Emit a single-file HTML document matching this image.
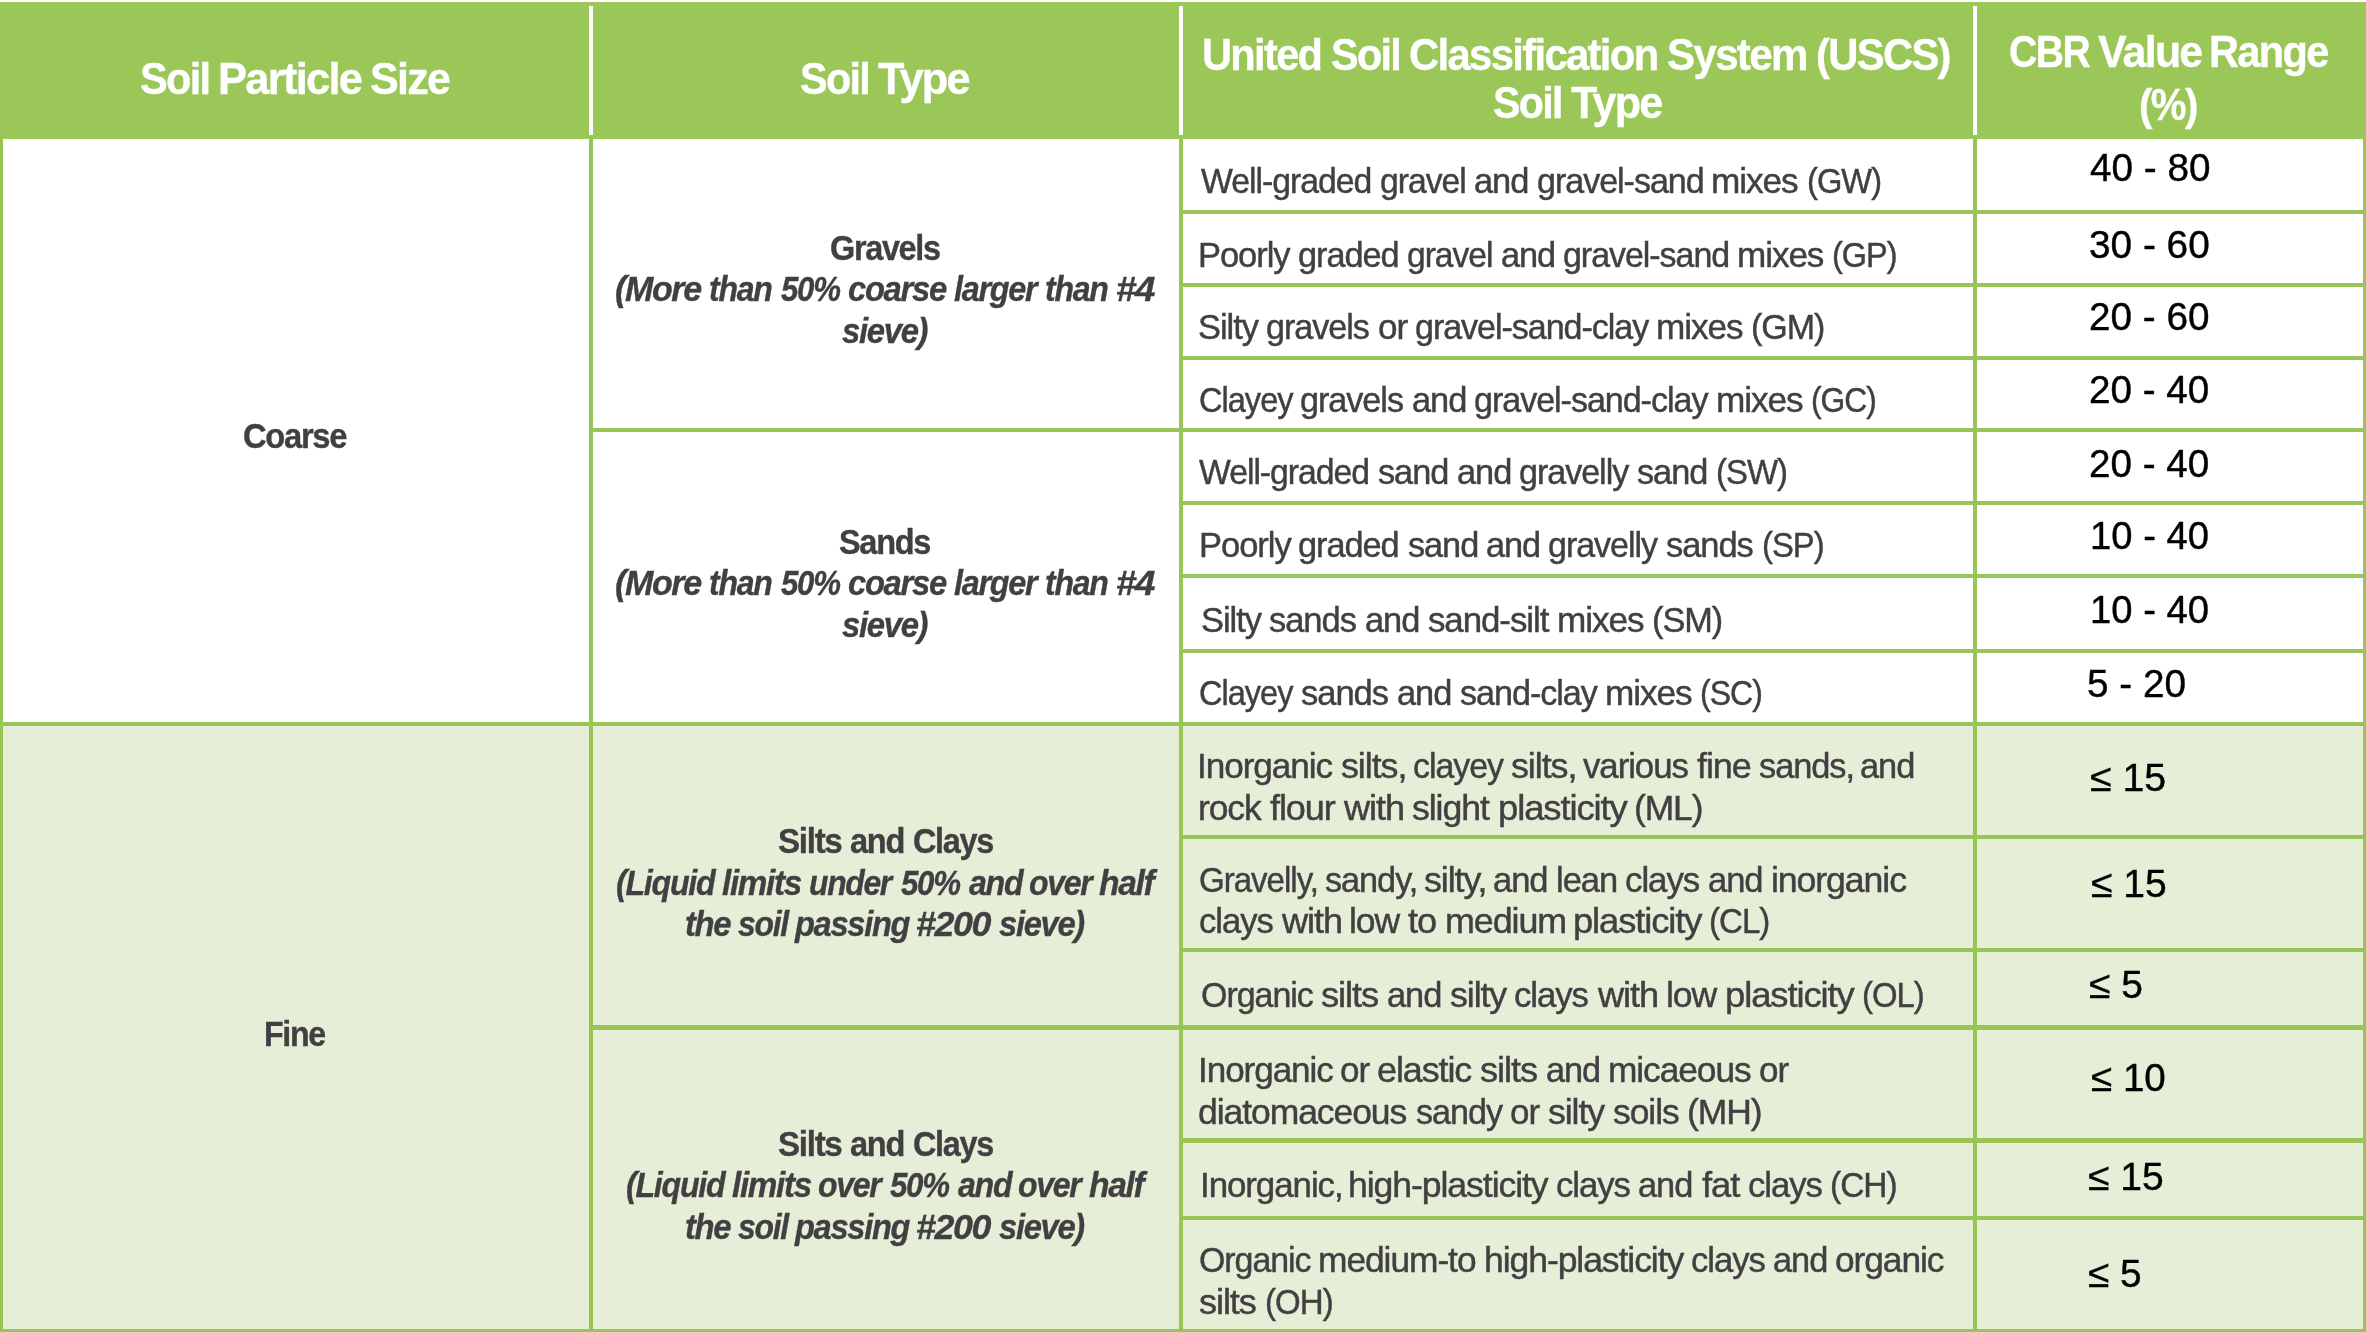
<!DOCTYPE html><html lang="en"><head><meta charset="utf-8"><title>Soil CBR table</title><style>
html,body{margin:0;padding:0;background:#fff;}
#p{position:relative;width:2366px;height:1332px;overflow:hidden;background:#fff;font-family:"Liberation Sans",sans-serif;}
#p div{position:absolute;}
#t span{position:absolute;white-space:nowrap;transform-origin:0 0;line-height:1;display:block;}
</style></head><body><div id="p">
<div style="left:0px;top:2px;width:2366px;height:137px;background:#9bc759"></div>
<div style="left:0px;top:726px;width:2366px;height:606px;background:#e6eed7"></div>
<div style="left:0px;top:139px;width:3px;height:1193px;background:#98c555"></div>
<div style="left:2362.5px;top:139px;width:3.5px;height:1193px;background:#98c555"></div>
<div style="left:0px;top:1329px;width:2366px;height:3px;background:#98c555"></div>
<div style="left:589px;top:139px;width:4px;height:1193px;background:#98c555"></div>
<div style="left:589px;top:6px;width:4px;height:128.7px;background:#fff"></div>
<div style="left:1179px;top:139px;width:4px;height:1193px;background:#98c555"></div>
<div style="left:1179px;top:6px;width:4px;height:128.7px;background:#fff"></div>
<div style="left:1973px;top:139px;width:4px;height:1193px;background:#98c555"></div>
<div style="left:1973px;top:6px;width:4px;height:128.7px;background:#fff"></div>
<div style="left:1179px;top:210px;width:1187px;height:4px;background:#98c555"></div>
<div style="left:1179px;top:283px;width:1187px;height:4px;background:#98c555"></div>
<div style="left:1179px;top:356px;width:1187px;height:4px;background:#98c555"></div>
<div style="left:589px;top:428px;width:1777px;height:4px;background:#98c555"></div>
<div style="left:1179px;top:501px;width:1187px;height:4px;background:#98c555"></div>
<div style="left:1179px;top:574px;width:1187px;height:4px;background:#98c555"></div>
<div style="left:1179px;top:649px;width:1187px;height:4px;background:#98c555"></div>
<div style="left:0px;top:722px;width:2366px;height:4px;background:#98c555"></div>
<div style="left:1179px;top:835px;width:1187px;height:4px;background:#98c555"></div>
<div style="left:1179px;top:948px;width:1187px;height:4px;background:#98c555"></div>
<div style="left:589px;top:1025px;width:1777px;height:4.5px;background:#98c555"></div>
<div style="left:1179px;top:1138px;width:1187px;height:4.5px;background:#98c555"></div>
<div style="left:1179px;top:1215.5px;width:1187px;height:4.5px;background:#98c555"></div>
<div id="t" style="left:0;top:0;width:2366px;height:1332px;will-change:transform">
<span style="left:140.24px;top:56.00px;font:bold 45px/1 'Liberation Sans',sans-serif;color:#fff;letter-spacing:-1.80px;-webkit-text-stroke:0.35px #fff;transform:scaleX(0.9229)">Soil</span>
<span style="left:217.77px;top:56.00px;font:bold 45px/1 'Liberation Sans',sans-serif;color:#fff;letter-spacing:-1.80px;-webkit-text-stroke:0.35px #fff;transform:scaleX(0.9668)">Particle</span>
<span style="left:369.82px;top:56.00px;font:bold 45px/1 'Liberation Sans',sans-serif;color:#fff;letter-spacing:-1.80px;-webkit-text-stroke:0.35px #fff;transform:scaleX(0.9570)">Size</span>
<span style="left:800.24px;top:56.00px;font:bold 45px/1 'Liberation Sans',sans-serif;color:#fff;letter-spacing:-1.80px;-webkit-text-stroke:0.35px #fff;transform:scaleX(0.9185)">Soil</span>
<span style="left:878.14px;top:56.00px;font:bold 45px/1 'Liberation Sans',sans-serif;color:#fff;letter-spacing:-1.80px;-webkit-text-stroke:0.35px #fff;transform:scaleX(0.9626)">Type</span>
<span style="left:1202.31px;top:32.20px;font:bold 45px/1 'Liberation Sans',sans-serif;color:#fff;letter-spacing:-1.80px;-webkit-text-stroke:0.35px #fff;transform:scaleX(0.9239)">United</span>
<span style="left:1330.90px;top:32.20px;font:bold 45px/1 'Liberation Sans',sans-serif;color:#fff;letter-spacing:-1.80px;-webkit-text-stroke:0.35px #fff;transform:scaleX(0.9186)">Soil</span>
<span style="left:1408.87px;top:32.20px;font:bold 45px/1 'Liberation Sans',sans-serif;color:#fff;letter-spacing:-1.80px;-webkit-text-stroke:0.35px #fff;transform:scaleX(0.9296)">Classification</span>
<span style="left:1666.53px;top:32.20px;font:bold 45px/1 'Liberation Sans',sans-serif;color:#fff;letter-spacing:-1.80px;-webkit-text-stroke:0.35px #fff;transform:scaleX(0.9356)">System</span>
<span style="left:1815.60px;top:32.20px;font:bold 45px/1 'Liberation Sans',sans-serif;color:#fff;letter-spacing:-1.80px;-webkit-text-stroke:0.35px #fff;transform:scaleX(0.9281)">(USCS)</span>
<span style="left:1493.25px;top:80.10px;font:bold 45px/1 'Liberation Sans',sans-serif;color:#fff;letter-spacing:-1.80px;-webkit-text-stroke:0.35px #fff;transform:scaleX(0.9135)">Soil</span>
<span style="left:1570.51px;top:80.10px;font:bold 45px/1 'Liberation Sans',sans-serif;color:#fff;letter-spacing:-1.80px;-webkit-text-stroke:0.35px #fff;transform:scaleX(0.9586)">Type</span>
<span style="left:2009.28px;top:28.90px;font:bold 45px/1 'Liberation Sans',sans-serif;color:#fff;letter-spacing:-1.80px;-webkit-text-stroke:0.35px #fff;transform:scaleX(0.8697)">CBR</span>
<span style="left:2098.35px;top:28.90px;font:bold 45px/1 'Liberation Sans',sans-serif;color:#fff;letter-spacing:-1.80px;-webkit-text-stroke:0.35px #fff;transform:scaleX(0.9534)">Value</span>
<span style="left:2209.15px;top:28.90px;font:bold 45px/1 'Liberation Sans',sans-serif;color:#fff;letter-spacing:-1.80px;-webkit-text-stroke:0.35px #fff;transform:scaleX(0.9226)">Range</span>
<span style="left:2139.37px;top:82.10px;font:bold 45px/1 'Liberation Sans',sans-serif;color:#fff;letter-spacing:-1.80px;-webkit-text-stroke:0.35px #fff;transform:scaleX(0.8957)">(%)</span>
<span style="left:243.23px;top:418.40px;font:bold 35.2px/1 'Liberation Sans',sans-serif;color:#404042;letter-spacing:-1.41px;-webkit-text-stroke:0.35px #404042;transform:scaleX(0.9302)">Coarse</span>
<span style="left:264.33px;top:1015.70px;font:bold 35.2px/1 'Liberation Sans',sans-serif;color:#404042;letter-spacing:-1.41px;-webkit-text-stroke:0.35px #404042;transform:scaleX(0.9136)">Fine</span>
<span style="left:829.64px;top:230.30px;font:bold 35.2px/1 'Liberation Sans',sans-serif;color:#404042;letter-spacing:-1.41px;-webkit-text-stroke:0.35px #404042;transform:scaleX(0.9200)">Gravels</span>
<span style="left:615.10px;top:271.30px;font:italic bold 35.2px/1 'Liberation Sans',sans-serif;color:#404042;letter-spacing:-1.41px;-webkit-text-stroke:0.35px #404042;transform:scaleX(0.9665)">(More</span>
<span style="left:709.06px;top:271.30px;font:italic bold 35.2px/1 'Liberation Sans',sans-serif;color:#404042;letter-spacing:-1.41px;-webkit-text-stroke:0.35px #404042;transform:scaleX(0.9101)">than</span>
<span style="left:781.33px;top:271.30px;font:italic bold 35.2px/1 'Liberation Sans',sans-serif;color:#404042;letter-spacing:-1.41px;-webkit-text-stroke:0.35px #404042;transform:scaleX(0.8872)">50%</span>
<span style="left:848.20px;top:271.30px;font:italic bold 35.2px/1 'Liberation Sans',sans-serif;color:#404042;letter-spacing:-1.41px;-webkit-text-stroke:0.35px #404042;transform:scaleX(0.9315)">coarse</span>
<span style="left:954.09px;top:271.30px;font:italic bold 35.2px/1 'Liberation Sans',sans-serif;color:#404042;letter-spacing:-1.41px;-webkit-text-stroke:0.35px #404042;transform:scaleX(0.9213)">larger</span>
<span style="left:1045.25px;top:271.30px;font:italic bold 35.2px/1 'Liberation Sans',sans-serif;color:#404042;letter-spacing:-1.41px;-webkit-text-stroke:0.35px #404042;transform:scaleX(0.9101)">than</span>
<span style="left:1115.50px;top:271.30px;font:italic bold 35.2px/1 'Liberation Sans',sans-serif;color:#404042;letter-spacing:-1.41px;-webkit-text-stroke:0.35px #404042;transform:scaleX(1.0445)">#4</span>
<span style="left:841.66px;top:312.50px;font:italic bold 35.2px/1 'Liberation Sans',sans-serif;color:#404042;letter-spacing:-1.41px;-webkit-text-stroke:0.35px #404042;transform:scaleX(0.9333)">sieve)</span>
<span style="left:838.94px;top:524.00px;font:bold 35.2px/1 'Liberation Sans',sans-serif;color:#404042;letter-spacing:-1.41px;-webkit-text-stroke:0.35px #404042;transform:scaleX(0.9236)">Sands</span>
<span style="left:615.10px;top:565.20px;font:italic bold 35.2px/1 'Liberation Sans',sans-serif;color:#404042;letter-spacing:-1.41px;-webkit-text-stroke:0.35px #404042;transform:scaleX(0.9665)">(More</span>
<span style="left:709.06px;top:565.20px;font:italic bold 35.2px/1 'Liberation Sans',sans-serif;color:#404042;letter-spacing:-1.41px;-webkit-text-stroke:0.35px #404042;transform:scaleX(0.9101)">than</span>
<span style="left:781.33px;top:565.20px;font:italic bold 35.2px/1 'Liberation Sans',sans-serif;color:#404042;letter-spacing:-1.41px;-webkit-text-stroke:0.35px #404042;transform:scaleX(0.8872)">50%</span>
<span style="left:848.20px;top:565.20px;font:italic bold 35.2px/1 'Liberation Sans',sans-serif;color:#404042;letter-spacing:-1.41px;-webkit-text-stroke:0.35px #404042;transform:scaleX(0.9315)">coarse</span>
<span style="left:954.09px;top:565.20px;font:italic bold 35.2px/1 'Liberation Sans',sans-serif;color:#404042;letter-spacing:-1.41px;-webkit-text-stroke:0.35px #404042;transform:scaleX(0.9213)">larger</span>
<span style="left:1045.25px;top:565.20px;font:italic bold 35.2px/1 'Liberation Sans',sans-serif;color:#404042;letter-spacing:-1.41px;-webkit-text-stroke:0.35px #404042;transform:scaleX(0.9101)">than</span>
<span style="left:1115.50px;top:565.20px;font:italic bold 35.2px/1 'Liberation Sans',sans-serif;color:#404042;letter-spacing:-1.41px;-webkit-text-stroke:0.35px #404042;transform:scaleX(1.0445)">#4</span>
<span style="left:841.66px;top:606.60px;font:italic bold 35.2px/1 'Liberation Sans',sans-serif;color:#404042;letter-spacing:-1.41px;-webkit-text-stroke:0.35px #404042;transform:scaleX(0.9333)">sieve)</span>
<span style="left:777.62px;top:822.80px;font:bold 35.2px/1 'Liberation Sans',sans-serif;color:#404042;letter-spacing:-1.41px;-webkit-text-stroke:0.35px #404042;transform:scaleX(0.9442)">Silts</span>
<span style="left:849.90px;top:822.80px;font:bold 35.2px/1 'Liberation Sans',sans-serif;color:#404042;letter-spacing:-1.41px;-webkit-text-stroke:0.35px #404042;transform:scaleX(0.9255)">and</span>
<span style="left:912.52px;top:822.80px;font:bold 35.2px/1 'Liberation Sans',sans-serif;color:#404042;letter-spacing:-1.41px;-webkit-text-stroke:0.35px #404042;transform:scaleX(0.9205)">Clays</span>
<span style="left:615.94px;top:864.50px;font:italic bold 35.2px/1 'Liberation Sans',sans-serif;color:#404042;letter-spacing:-1.41px;-webkit-text-stroke:0.35px #404042;transform:scaleX(0.9167)">(Liquid</span>
<span style="left:722.15px;top:864.50px;font:italic bold 35.2px/1 'Liberation Sans',sans-serif;color:#404042;letter-spacing:-1.41px;-webkit-text-stroke:0.35px #404042;transform:scaleX(0.9447)">limits</span>
<span style="left:809.30px;top:864.50px;font:italic bold 35.2px/1 'Liberation Sans',sans-serif;color:#404042;letter-spacing:-1.41px;-webkit-text-stroke:0.35px #404042;transform:scaleX(0.9031)">under</span>
<span style="left:900.93px;top:864.50px;font:italic bold 35.2px/1 'Liberation Sans',sans-serif;color:#404042;letter-spacing:-1.41px;-webkit-text-stroke:0.35px #404042;transform:scaleX(0.8876)">50%</span>
<span style="left:968.79px;top:864.50px;font:italic bold 35.2px/1 'Liberation Sans',sans-serif;color:#404042;letter-spacing:-1.41px;-webkit-text-stroke:0.35px #404042;transform:scaleX(0.9137)">and</span>
<span style="left:1028.93px;top:864.50px;font:italic bold 35.2px/1 'Liberation Sans',sans-serif;color:#404042;letter-spacing:-1.41px;-webkit-text-stroke:0.35px #404042;transform:scaleX(0.9103)">over</span>
<span style="left:1099.22px;top:864.50px;font:italic bold 35.2px/1 'Liberation Sans',sans-serif;color:#404042;letter-spacing:-1.41px;-webkit-text-stroke:0.35px #404042;transform:scaleX(0.9562)">half</span>
<span style="left:685.03px;top:905.60px;font:italic bold 35.2px/1 'Liberation Sans',sans-serif;color:#404042;letter-spacing:-1.41px;-webkit-text-stroke:0.35px #404042;transform:scaleX(0.9334)">the</span>
<span style="left:738.40px;top:905.60px;font:italic bold 35.2px/1 'Liberation Sans',sans-serif;color:#404042;letter-spacing:-1.41px;-webkit-text-stroke:0.35px #404042;transform:scaleX(0.9077)">soil</span>
<span style="left:795.49px;top:905.60px;font:italic bold 35.2px/1 'Liberation Sans',sans-serif;color:#404042;letter-spacing:-1.41px;-webkit-text-stroke:0.35px #404042;transform:scaleX(0.9272)">passing</span>
<span style="left:915.82px;top:905.60px;font:italic bold 35.2px/1 'Liberation Sans',sans-serif;color:#404042;letter-spacing:-1.41px;-webkit-text-stroke:0.35px #404042;transform:scaleX(1.0178)">#200</span>
<span style="left:999.07px;top:905.60px;font:italic bold 35.2px/1 'Liberation Sans',sans-serif;color:#404042;letter-spacing:-1.41px;-webkit-text-stroke:0.35px #404042;transform:scaleX(0.9299)">sieve)</span>
<span style="left:777.62px;top:1125.70px;font:bold 35.2px/1 'Liberation Sans',sans-serif;color:#404042;letter-spacing:-1.41px;-webkit-text-stroke:0.35px #404042;transform:scaleX(0.9442)">Silts</span>
<span style="left:849.90px;top:1125.70px;font:bold 35.2px/1 'Liberation Sans',sans-serif;color:#404042;letter-spacing:-1.41px;-webkit-text-stroke:0.35px #404042;transform:scaleX(0.9255)">and</span>
<span style="left:912.52px;top:1125.70px;font:bold 35.2px/1 'Liberation Sans',sans-serif;color:#404042;letter-spacing:-1.41px;-webkit-text-stroke:0.35px #404042;transform:scaleX(0.9205)">Clays</span>
<span style="left:625.74px;top:1167.40px;font:italic bold 35.2px/1 'Liberation Sans',sans-serif;color:#404042;letter-spacing:-1.41px;-webkit-text-stroke:0.35px #404042;transform:scaleX(0.9168)">(Liquid</span>
<span style="left:731.96px;top:1167.40px;font:italic bold 35.2px/1 'Liberation Sans',sans-serif;color:#404042;letter-spacing:-1.41px;-webkit-text-stroke:0.35px #404042;transform:scaleX(0.9448)">limits</span>
<span style="left:818.12px;top:1167.40px;font:italic bold 35.2px/1 'Liberation Sans',sans-serif;color:#404042;letter-spacing:-1.41px;-webkit-text-stroke:0.35px #404042;transform:scaleX(0.9104)">over</span>
<span style="left:890.40px;top:1167.40px;font:italic bold 35.2px/1 'Liberation Sans',sans-serif;color:#404042;letter-spacing:-1.41px;-webkit-text-stroke:0.35px #404042;transform:scaleX(0.8877)">50%</span>
<span style="left:958.28px;top:1167.40px;font:italic bold 35.2px/1 'Liberation Sans',sans-serif;color:#404042;letter-spacing:-1.41px;-webkit-text-stroke:0.35px #404042;transform:scaleX(0.9138)">and</span>
<span style="left:1018.42px;top:1167.40px;font:italic bold 35.2px/1 'Liberation Sans',sans-serif;color:#404042;letter-spacing:-1.41px;-webkit-text-stroke:0.35px #404042;transform:scaleX(0.9104)">over</span>
<span style="left:1088.71px;top:1167.40px;font:italic bold 35.2px/1 'Liberation Sans',sans-serif;color:#404042;letter-spacing:-1.41px;-webkit-text-stroke:0.35px #404042;transform:scaleX(0.9562)">half</span>
<span style="left:685.03px;top:1209.10px;font:italic bold 35.2px/1 'Liberation Sans',sans-serif;color:#404042;letter-spacing:-1.41px;-webkit-text-stroke:0.35px #404042;transform:scaleX(0.9334)">the</span>
<span style="left:738.40px;top:1209.10px;font:italic bold 35.2px/1 'Liberation Sans',sans-serif;color:#404042;letter-spacing:-1.41px;-webkit-text-stroke:0.35px #404042;transform:scaleX(0.9077)">soil</span>
<span style="left:795.49px;top:1209.10px;font:italic bold 35.2px/1 'Liberation Sans',sans-serif;color:#404042;letter-spacing:-1.41px;-webkit-text-stroke:0.35px #404042;transform:scaleX(0.9272)">passing</span>
<span style="left:915.82px;top:1209.10px;font:italic bold 35.2px/1 'Liberation Sans',sans-serif;color:#404042;letter-spacing:-1.41px;-webkit-text-stroke:0.35px #404042;transform:scaleX(1.0178)">#200</span>
<span style="left:999.07px;top:1209.10px;font:italic bold 35.2px/1 'Liberation Sans',sans-serif;color:#404042;letter-spacing:-1.41px;-webkit-text-stroke:0.35px #404042;transform:scaleX(0.9299)">sieve)</span>
<span style="left:1201.22px;top:162.70px;font:normal 35.2px/1 'Liberation Sans',sans-serif;color:#404042;letter-spacing:-1.06px;-webkit-text-stroke:0.45px #404042;transform:scaleX(0.9590)">Well-graded</span>
<span style="left:1379.61px;top:162.70px;font:normal 35.2px/1 'Liberation Sans',sans-serif;color:#404042;letter-spacing:-1.06px;-webkit-text-stroke:0.45px #404042;transform:scaleX(0.9582)">gravel</span>
<span style="left:1474.04px;top:162.70px;font:normal 35.2px/1 'Liberation Sans',sans-serif;color:#404042;letter-spacing:-1.06px;-webkit-text-stroke:0.45px #404042;transform:scaleX(0.9771)">and</span>
<span style="left:1536.52px;top:162.70px;font:normal 35.2px/1 'Liberation Sans',sans-serif;color:#404042;letter-spacing:-1.06px;-webkit-text-stroke:0.45px #404042;transform:scaleX(0.9678)">gravel-sand</span>
<span style="left:1711.39px;top:162.70px;font:normal 35.2px/1 'Liberation Sans',sans-serif;color:#404042;letter-spacing:-1.06px;-webkit-text-stroke:0.45px #404042;transform:scaleX(0.9998)">mixes</span>
<span style="left:1806.58px;top:162.70px;font:normal 35.2px/1 'Liberation Sans',sans-serif;color:#404042;letter-spacing:-1.06px;-webkit-text-stroke:0.45px #404042;transform:scaleX(0.9278)">(GW)</span>
<span style="left:1198.46px;top:236.60px;font:normal 35.2px/1 'Liberation Sans',sans-serif;color:#404042;letter-spacing:-1.06px;-webkit-text-stroke:0.45px #404042;transform:scaleX(0.9804)">Poorly</span>
<span style="left:1297.86px;top:236.60px;font:normal 35.2px/1 'Liberation Sans',sans-serif;color:#404042;letter-spacing:-1.06px;-webkit-text-stroke:0.45px #404042;transform:scaleX(0.9742)">graded</span>
<span style="left:1406.54px;top:236.60px;font:normal 35.2px/1 'Liberation Sans',sans-serif;color:#404042;letter-spacing:-1.06px;-webkit-text-stroke:0.45px #404042;transform:scaleX(0.9553)">gravel</span>
<span style="left:1500.61px;top:236.60px;font:normal 35.2px/1 'Liberation Sans',sans-serif;color:#404042;letter-spacing:-1.06px;-webkit-text-stroke:0.45px #404042;transform:scaleX(0.9753)">and</span>
<span style="left:1562.88px;top:236.60px;font:normal 35.2px/1 'Liberation Sans',sans-serif;color:#404042;letter-spacing:-1.06px;-webkit-text-stroke:0.45px #404042;transform:scaleX(0.9648)">gravel-sand</span>
<span style="left:1737.14px;top:236.60px;font:normal 35.2px/1 'Liberation Sans',sans-serif;color:#404042;letter-spacing:-1.06px;-webkit-text-stroke:0.45px #404042;transform:scaleX(0.9974)">mixes</span>
<span style="left:1832.02px;top:236.60px;font:normal 35.2px/1 'Liberation Sans',sans-serif;color:#404042;letter-spacing:-1.06px;-webkit-text-stroke:0.45px #404042;transform:scaleX(0.9220)">(GP)</span>
<span style="left:1198.44px;top:308.60px;font:normal 35.2px/1 'Liberation Sans',sans-serif;color:#404042;letter-spacing:-1.06px;-webkit-text-stroke:0.45px #404042;transform:scaleX(0.9787)">Silty</span>
<span style="left:1266.24px;top:308.60px;font:normal 35.2px/1 'Liberation Sans',sans-serif;color:#404042;letter-spacing:-1.06px;-webkit-text-stroke:0.45px #404042;transform:scaleX(0.9704)">gravels</span>
<span style="left:1377.55px;top:308.60px;font:normal 35.2px/1 'Liberation Sans',sans-serif;color:#404042;letter-spacing:-1.06px;-webkit-text-stroke:0.45px #404042;transform:scaleX(0.9974)">or</span>
<span style="left:1414.74px;top:308.60px;font:normal 35.2px/1 'Liberation Sans',sans-serif;color:#404042;letter-spacing:-1.06px;-webkit-text-stroke:0.45px #404042;transform:scaleX(0.9665)">gravel-sand-clay</span>
<span style="left:1655.77px;top:308.60px;font:normal 35.2px/1 'Liberation Sans',sans-serif;color:#404042;letter-spacing:-1.06px;-webkit-text-stroke:0.45px #404042;transform:scaleX(0.9992)">mixes</span>
<span style="left:1750.80px;top:308.60px;font:normal 35.2px/1 'Liberation Sans',sans-serif;color:#404042;letter-spacing:-1.06px;-webkit-text-stroke:0.45px #404042;transform:scaleX(0.9661)">(GM)</span>
<span style="left:1198.98px;top:381.50px;font:normal 35.2px/1 'Liberation Sans',sans-serif;color:#404042;letter-spacing:-1.06px;-webkit-text-stroke:0.45px #404042;transform:scaleX(0.9241)">Clayey</span>
<span style="left:1300.37px;top:381.50px;font:normal 35.2px/1 'Liberation Sans',sans-serif;color:#404042;letter-spacing:-1.06px;-webkit-text-stroke:0.45px #404042;transform:scaleX(0.9714)">gravels</span>
<span style="left:1411.84px;top:381.50px;font:normal 35.2px/1 'Liberation Sans',sans-serif;color:#404042;letter-spacing:-1.06px;-webkit-text-stroke:0.45px #404042;transform:scaleX(0.9773)">and</span>
<span style="left:1474.33px;top:381.50px;font:normal 35.2px/1 'Liberation Sans',sans-serif;color:#404042;letter-spacing:-1.06px;-webkit-text-stroke:0.45px #404042;transform:scaleX(0.9676)">gravel-sand-clay</span>
<span style="left:1715.67px;top:381.50px;font:normal 35.2px/1 'Liberation Sans',sans-serif;color:#404042;letter-spacing:-1.06px;-webkit-text-stroke:0.45px #404042;transform:scaleX(1.0001)">mixes</span>
<span style="left:1810.93px;top:381.50px;font:normal 35.2px/1 'Liberation Sans',sans-serif;color:#404042;letter-spacing:-1.06px;-webkit-text-stroke:0.45px #404042;transform:scaleX(0.9024)">(GC)</span>
<span style="left:1199.12px;top:453.90px;font:normal 35.2px/1 'Liberation Sans',sans-serif;color:#404042;letter-spacing:-1.06px;-webkit-text-stroke:0.45px #404042;transform:scaleX(0.9578)">Well-graded</span>
<span style="left:1378.20px;top:453.90px;font:normal 35.2px/1 'Liberation Sans',sans-serif;color:#404042;letter-spacing:-1.06px;-webkit-text-stroke:0.45px #404042;transform:scaleX(0.9742)">sand</span>
<span style="left:1456.57px;top:453.90px;font:normal 35.2px/1 'Liberation Sans',sans-serif;color:#404042;letter-spacing:-1.06px;-webkit-text-stroke:0.45px #404042;transform:scaleX(0.9763)">and</span>
<span style="left:1518.95px;top:453.90px;font:normal 35.2px/1 'Liberation Sans',sans-serif;color:#404042;letter-spacing:-1.06px;-webkit-text-stroke:0.45px #404042;transform:scaleX(0.9684)">gravelly</span>
<span style="left:1637.04px;top:453.90px;font:normal 35.2px/1 'Liberation Sans',sans-serif;color:#404042;letter-spacing:-1.06px;-webkit-text-stroke:0.45px #404042;transform:scaleX(0.9742)">sand</span>
<span style="left:1715.51px;top:453.90px;font:normal 35.2px/1 'Liberation Sans',sans-serif;color:#404042;letter-spacing:-1.06px;-webkit-text-stroke:0.45px #404042;transform:scaleX(0.9342)">(SW)</span>
<span style="left:1198.56px;top:526.70px;font:normal 35.2px/1 'Liberation Sans',sans-serif;color:#404042;letter-spacing:-1.06px;-webkit-text-stroke:0.45px #404042;transform:scaleX(0.9809)">Poorly</span>
<span style="left:1298.03px;top:526.70px;font:normal 35.2px/1 'Liberation Sans',sans-serif;color:#404042;letter-spacing:-1.06px;-webkit-text-stroke:0.45px #404042;transform:scaleX(0.9747)">graded</span>
<span style="left:1407.74px;top:526.70px;font:normal 35.2px/1 'Liberation Sans',sans-serif;color:#404042;letter-spacing:-1.06px;-webkit-text-stroke:0.45px #404042;transform:scaleX(0.9734)">sand</span>
<span style="left:1486.01px;top:526.70px;font:normal 35.2px/1 'Liberation Sans',sans-serif;color:#404042;letter-spacing:-1.06px;-webkit-text-stroke:0.45px #404042;transform:scaleX(0.9756)">and</span>
<span style="left:1548.31px;top:526.70px;font:normal 35.2px/1 'Liberation Sans',sans-serif;color:#404042;letter-spacing:-1.06px;-webkit-text-stroke:0.45px #404042;transform:scaleX(0.9672)">gravelly</span>
<span style="left:1666.22px;top:526.70px;font:normal 35.2px/1 'Liberation Sans',sans-serif;color:#404042;letter-spacing:-1.06px;-webkit-text-stroke:0.45px #404042;transform:scaleX(0.9799)">sands</span>
<span style="left:1761.55px;top:526.70px;font:normal 35.2px/1 'Liberation Sans',sans-serif;color:#404042;letter-spacing:-1.06px;-webkit-text-stroke:0.45px #404042;transform:scaleX(0.9306)">(SP)</span>
<span style="left:1200.54px;top:601.60px;font:normal 35.2px/1 'Liberation Sans',sans-serif;color:#404042;letter-spacing:-1.06px;-webkit-text-stroke:0.45px #404042;transform:scaleX(0.9781)">Silty</span>
<span style="left:1269.26px;top:601.60px;font:normal 35.2px/1 'Liberation Sans',sans-serif;color:#404042;letter-spacing:-1.06px;-webkit-text-stroke:0.45px #404042;transform:scaleX(0.9808)">sands</span>
<span style="left:1364.59px;top:601.60px;font:normal 35.2px/1 'Liberation Sans',sans-serif;color:#404042;letter-spacing:-1.06px;-webkit-text-stroke:0.45px #404042;transform:scaleX(0.9763)">and</span>
<span style="left:1427.94px;top:601.60px;font:normal 35.2px/1 'Liberation Sans',sans-serif;color:#404042;letter-spacing:-1.06px;-webkit-text-stroke:0.45px #404042;transform:scaleX(0.9901)">sand-silt</span>
<span style="left:1556.83px;top:601.60px;font:normal 35.2px/1 'Liberation Sans',sans-serif;color:#404042;letter-spacing:-1.06px;-webkit-text-stroke:0.45px #404042;transform:scaleX(0.9988)">mixes</span>
<span style="left:1651.79px;top:601.60px;font:normal 35.2px/1 'Liberation Sans',sans-serif;color:#404042;letter-spacing:-1.06px;-webkit-text-stroke:0.45px #404042;transform:scaleX(0.9756)">(SM)</span>
<span style="left:1198.98px;top:675.40px;font:normal 35.2px/1 'Liberation Sans',sans-serif;color:#404042;letter-spacing:-1.06px;-webkit-text-stroke:0.45px #404042;transform:scaleX(0.9236)">Clayey</span>
<span style="left:1301.28px;top:675.40px;font:normal 35.2px/1 'Liberation Sans',sans-serif;color:#404042;letter-spacing:-1.06px;-webkit-text-stroke:0.45px #404042;transform:scaleX(0.9816)">sands</span>
<span style="left:1396.72px;top:675.40px;font:normal 35.2px/1 'Liberation Sans',sans-serif;color:#404042;letter-spacing:-1.06px;-webkit-text-stroke:0.45px #404042;transform:scaleX(0.9770)">and</span>
<span style="left:1460.14px;top:675.40px;font:normal 35.2px/1 'Liberation Sans',sans-serif;color:#404042;letter-spacing:-1.06px;-webkit-text-stroke:0.45px #404042;transform:scaleX(0.9703)">sand-clay</span>
<span style="left:1604.93px;top:675.40px;font:normal 35.2px/1 'Liberation Sans',sans-serif;color:#404042;letter-spacing:-1.06px;-webkit-text-stroke:0.45px #404042;transform:scaleX(0.9996)">mixes</span>
<span style="left:1700.12px;top:675.40px;font:normal 35.2px/1 'Liberation Sans',sans-serif;color:#404042;letter-spacing:-1.06px;-webkit-text-stroke:0.45px #404042;transform:scaleX(0.9087)">(SC)</span>
<span style="left:1197.43px;top:747.80px;font:normal 35.2px/1 'Liberation Sans',sans-serif;color:#404042;letter-spacing:-1.06px;-webkit-text-stroke:0.45px #404042;transform:scaleX(0.9993)">Inorganic</span>
<span style="left:1341.27px;top:747.80px;font:normal 35.2px/1 'Liberation Sans',sans-serif;color:#404042;letter-spacing:-1.06px;-webkit-text-stroke:0.45px #404042;transform:scaleX(1.0199)">silts,</span>
<span style="left:1412.59px;top:747.80px;font:normal 35.2px/1 'Liberation Sans',sans-serif;color:#404042;letter-spacing:-1.06px;-webkit-text-stroke:0.45px #404042;transform:scaleX(0.9626)">clayey</span>
<span style="left:1511.36px;top:747.80px;font:normal 35.2px/1 'Liberation Sans',sans-serif;color:#404042;letter-spacing:-1.06px;-webkit-text-stroke:0.45px #404042;transform:scaleX(1.0199)">silts,</span>
<span style="left:1582.64px;top:747.80px;font:normal 35.2px/1 'Liberation Sans',sans-serif;color:#404042;letter-spacing:-1.06px;-webkit-text-stroke:0.45px #404042;transform:scaleX(0.9888)">various</span>
<span style="left:1696.92px;top:747.80px;font:normal 35.2px/1 'Liberation Sans',sans-serif;color:#404042;letter-spacing:-1.06px;-webkit-text-stroke:0.45px #404042;transform:scaleX(1.0232)">fine</span>
<span style="left:1758.59px;top:747.80px;font:normal 35.2px/1 'Liberation Sans',sans-serif;color:#404042;letter-spacing:-1.06px;-webkit-text-stroke:0.45px #404042;transform:scaleX(0.9765)">sands,</span>
<span style="left:1859.70px;top:747.80px;font:normal 35.2px/1 'Liberation Sans',sans-serif;color:#404042;letter-spacing:-1.06px;-webkit-text-stroke:0.45px #404042;transform:scaleX(0.9766)">and</span>
<span style="left:1198.01px;top:789.80px;font:normal 35.2px/1 'Liberation Sans',sans-serif;color:#404042;letter-spacing:-1.06px;-webkit-text-stroke:0.45px #404042;transform:scaleX(1.0060)">rock</span>
<span style="left:1269.78px;top:789.80px;font:normal 35.2px/1 'Liberation Sans',sans-serif;color:#404042;letter-spacing:-1.06px;-webkit-text-stroke:0.45px #404042;transform:scaleX(1.0245)">flour</span>
<span style="left:1343.66px;top:789.80px;font:normal 35.2px/1 'Liberation Sans',sans-serif;color:#404042;letter-spacing:-1.06px;-webkit-text-stroke:0.45px #404042;transform:scaleX(1.0286)">with</span>
<span style="left:1412.37px;top:789.80px;font:normal 35.2px/1 'Liberation Sans',sans-serif;color:#404042;letter-spacing:-1.06px;-webkit-text-stroke:0.45px #404042;transform:scaleX(1.0128)">slight</span>
<span style="left:1497.72px;top:789.80px;font:normal 35.2px/1 'Liberation Sans',sans-serif;color:#404042;letter-spacing:-1.06px;-webkit-text-stroke:0.45px #404042;transform:scaleX(1.0347)">plasticity</span>
<span style="left:1634.39px;top:789.80px;font:normal 35.2px/1 'Liberation Sans',sans-serif;color:#404042;letter-spacing:-1.06px;-webkit-text-stroke:0.45px #404042;transform:scaleX(1.0047)">(ML)</span>
<span style="left:1198.67px;top:861.70px;font:normal 35.2px/1 'Liberation Sans',sans-serif;color:#404042;letter-spacing:-1.06px;-webkit-text-stroke:0.45px #404042;transform:scaleX(0.9386)">Gravelly,</span>
<span style="left:1324.90px;top:861.70px;font:normal 35.2px/1 'Liberation Sans',sans-serif;color:#404042;letter-spacing:-1.06px;-webkit-text-stroke:0.45px #404042;transform:scaleX(0.9733)">sandy,</span>
<span style="left:1424.35px;top:861.70px;font:normal 35.2px/1 'Liberation Sans',sans-serif;color:#404042;letter-spacing:-1.06px;-webkit-text-stroke:0.45px #404042;transform:scaleX(1.0168)">silty,</span>
<span style="left:1493.01px;top:861.70px;font:normal 35.2px/1 'Liberation Sans',sans-serif;color:#404042;letter-spacing:-1.06px;-webkit-text-stroke:0.45px #404042;transform:scaleX(0.9802)">and</span>
<span style="left:1555.83px;top:861.70px;font:normal 35.2px/1 'Liberation Sans',sans-serif;color:#404042;letter-spacing:-1.06px;-webkit-text-stroke:0.45px #404042;transform:scaleX(0.9811)">lean</span>
<span style="left:1624.89px;top:861.70px;font:normal 35.2px/1 'Liberation Sans',sans-serif;color:#404042;letter-spacing:-1.06px;-webkit-text-stroke:0.45px #404042;transform:scaleX(0.9915)">clays</span>
<span style="left:1707.78px;top:861.70px;font:normal 35.2px/1 'Liberation Sans',sans-serif;color:#404042;letter-spacing:-1.06px;-webkit-text-stroke:0.45px #404042;transform:scaleX(0.9802)">and</span>
<span style="left:1770.55px;top:861.70px;font:normal 35.2px/1 'Liberation Sans',sans-serif;color:#404042;letter-spacing:-1.06px;-webkit-text-stroke:0.45px #404042;transform:scaleX(1.0125)">inorganic</span>
<span style="left:1198.64px;top:902.90px;font:normal 35.2px/1 'Liberation Sans',sans-serif;color:#404042;letter-spacing:-1.06px;-webkit-text-stroke:0.45px #404042;transform:scaleX(0.9848)">clays</span>
<span style="left:1281.79px;top:902.90px;font:normal 35.2px/1 'Liberation Sans',sans-serif;color:#404042;letter-spacing:-1.06px;-webkit-text-stroke:0.45px #404042;transform:scaleX(1.0268)">with</span>
<span style="left:1349.30px;top:902.90px;font:normal 35.2px/1 'Liberation Sans',sans-serif;color:#404042;letter-spacing:-1.06px;-webkit-text-stroke:0.45px #404042;transform:scaleX(1.0096)">low</span>
<span style="left:1408.28px;top:902.90px;font:normal 35.2px/1 'Liberation Sans',sans-serif;color:#404042;letter-spacing:-1.06px;-webkit-text-stroke:0.45px #404042;transform:scaleX(1.0279)">to</span>
<span style="left:1444.57px;top:902.90px;font:normal 35.2px/1 'Liberation Sans',sans-serif;color:#404042;letter-spacing:-1.06px;-webkit-text-stroke:0.45px #404042;transform:scaleX(1.0194)">medium</span>
<span style="left:1572.97px;top:902.90px;font:normal 35.2px/1 'Liberation Sans',sans-serif;color:#404042;letter-spacing:-1.06px;-webkit-text-stroke:0.45px #404042;transform:scaleX(1.0322)">plasticity</span>
<span style="left:1709.37px;top:902.90px;font:normal 35.2px/1 'Liberation Sans',sans-serif;color:#404042;letter-spacing:-1.06px;-webkit-text-stroke:0.45px #404042;transform:scaleX(0.9401)">(CL)</span>
<span style="left:1200.75px;top:976.80px;font:normal 35.2px/1 'Liberation Sans',sans-serif;color:#404042;letter-spacing:-1.06px;-webkit-text-stroke:0.45px #404042;transform:scaleX(0.9650)">Organic</span>
<span style="left:1321.22px;top:976.80px;font:normal 35.2px/1 'Liberation Sans',sans-serif;color:#404042;letter-spacing:-1.06px;-webkit-text-stroke:0.45px #404042;transform:scaleX(1.0334)">silts</span>
<span style="left:1386.88px;top:976.80px;font:normal 35.2px/1 'Liberation Sans',sans-serif;color:#404042;letter-spacing:-1.06px;-webkit-text-stroke:0.45px #404042;transform:scaleX(0.9772)">and</span>
<span style="left:1450.34px;top:976.80px;font:normal 35.2px/1 'Liberation Sans',sans-serif;color:#404042;letter-spacing:-1.06px;-webkit-text-stroke:0.45px #404042;transform:scaleX(1.0153)">silty</span>
<span style="left:1514.49px;top:976.80px;font:normal 35.2px/1 'Liberation Sans',sans-serif;color:#404042;letter-spacing:-1.06px;-webkit-text-stroke:0.45px #404042;transform:scaleX(0.9870)">clays</span>
<span style="left:1597.89px;top:976.80px;font:normal 35.2px/1 'Liberation Sans',sans-serif;color:#404042;letter-spacing:-1.06px;-webkit-text-stroke:0.45px #404042;transform:scaleX(1.0289)">with</span>
<span style="left:1665.61px;top:976.80px;font:normal 35.2px/1 'Liberation Sans',sans-serif;color:#404042;letter-spacing:-1.06px;-webkit-text-stroke:0.45px #404042;transform:scaleX(1.0113)">low</span>
<span style="left:1724.68px;top:976.80px;font:normal 35.2px/1 'Liberation Sans',sans-serif;color:#404042;letter-spacing:-1.06px;-webkit-text-stroke:0.45px #404042;transform:scaleX(1.0351)">plasticity</span>
<span style="left:1861.55px;top:976.80px;font:normal 35.2px/1 'Liberation Sans',sans-serif;color:#404042;letter-spacing:-1.06px;-webkit-text-stroke:0.45px #404042;transform:scaleX(0.9336)">(OL)</span>
<span style="left:1198.03px;top:1051.80px;font:normal 35.2px/1 'Liberation Sans',sans-serif;color:#404042;letter-spacing:-1.06px;-webkit-text-stroke:0.45px #404042;transform:scaleX(0.9965)">Inorganic</span>
<span style="left:1340.41px;top:1051.80px;font:normal 35.2px/1 'Liberation Sans',sans-serif;color:#404042;letter-spacing:-1.06px;-webkit-text-stroke:0.45px #404042;transform:scaleX(0.9957)">or</span>
<span style="left:1377.41px;top:1051.80px;font:normal 35.2px/1 'Liberation Sans',sans-serif;color:#404042;letter-spacing:-1.06px;-webkit-text-stroke:0.45px #404042;transform:scaleX(1.0209)">elastic</span>
<span style="left:1480.30px;top:1051.80px;font:normal 35.2px/1 'Liberation Sans',sans-serif;color:#404042;letter-spacing:-1.06px;-webkit-text-stroke:0.45px #404042;transform:scaleX(1.0289)">silts</span>
<span style="left:1545.60px;top:1051.80px;font:normal 35.2px/1 'Liberation Sans',sans-serif;color:#404042;letter-spacing:-1.06px;-webkit-text-stroke:0.45px #404042;transform:scaleX(0.9749)">and</span>
<span style="left:1607.79px;top:1051.80px;font:normal 35.2px/1 'Liberation Sans',sans-serif;color:#404042;letter-spacing:-1.06px;-webkit-text-stroke:0.45px #404042;transform:scaleX(1.0029)">micaeous</span>
<span style="left:1758.69px;top:1051.80px;font:normal 35.2px/1 'Liberation Sans',sans-serif;color:#404042;letter-spacing:-1.06px;-webkit-text-stroke:0.45px #404042;transform:scaleX(0.9957)">or</span>
<span style="left:1198.42px;top:1093.60px;font:normal 35.2px/1 'Liberation Sans',sans-serif;color:#404042;letter-spacing:-1.06px;-webkit-text-stroke:0.45px #404042;transform:scaleX(1.0088)">diatomaceous</span>
<span style="left:1416.05px;top:1093.60px;font:normal 35.2px/1 'Liberation Sans',sans-serif;color:#404042;letter-spacing:-1.06px;-webkit-text-stroke:0.45px #404042;transform:scaleX(0.9697)">sandy</span>
<span style="left:1509.82px;top:1093.60px;font:normal 35.2px/1 'Liberation Sans',sans-serif;color:#404042;letter-spacing:-1.06px;-webkit-text-stroke:0.45px #404042;transform:scaleX(0.9969)">or</span>
<span style="left:1547.95px;top:1093.60px;font:normal 35.2px/1 'Liberation Sans',sans-serif;color:#404042;letter-spacing:-1.06px;-webkit-text-stroke:0.45px #404042;transform:scaleX(1.0133)">silty</span>
<span style="left:1612.92px;top:1093.60px;font:normal 35.2px/1 'Liberation Sans',sans-serif;color:#404042;letter-spacing:-1.06px;-webkit-text-stroke:0.45px #404042;transform:scaleX(1.0079)">soils</span>
<span style="left:1686.94px;top:1093.60px;font:normal 35.2px/1 'Liberation Sans',sans-serif;color:#404042;letter-spacing:-1.06px;-webkit-text-stroke:0.45px #404042;transform:scaleX(1.0077)">(MH)</span>
<span style="left:1199.55px;top:1166.80px;font:normal 35.2px/1 'Liberation Sans',sans-serif;color:#404042;letter-spacing:-1.06px;-webkit-text-stroke:0.45px #404042;transform:scaleX(0.9908)">Inorganic,</span>
<span style="left:1348.22px;top:1166.80px;font:normal 35.2px/1 'Liberation Sans',sans-serif;color:#404042;letter-spacing:-1.06px;-webkit-text-stroke:0.45px #404042;transform:scaleX(1.0117)">high-plasticity</span>
<span style="left:1555.83px;top:1166.80px;font:normal 35.2px/1 'Liberation Sans',sans-serif;color:#404042;letter-spacing:-1.06px;-webkit-text-stroke:0.45px #404042;transform:scaleX(0.9868)">clays</span>
<span style="left:1638.19px;top:1166.80px;font:normal 35.2px/1 'Liberation Sans',sans-serif;color:#404042;letter-spacing:-1.06px;-webkit-text-stroke:0.45px #404042;transform:scaleX(0.9770)">and</span>
<span style="left:1701.63px;top:1166.80px;font:normal 35.2px/1 'Liberation Sans',sans-serif;color:#404042;letter-spacing:-1.06px;-webkit-text-stroke:0.45px #404042;transform:scaleX(1.0356)">fat</span>
<span style="left:1747.55px;top:1166.80px;font:normal 35.2px/1 'Liberation Sans',sans-serif;color:#404042;letter-spacing:-1.06px;-webkit-text-stroke:0.45px #404042;transform:scaleX(0.9868)">clays</span>
<span style="left:1829.98px;top:1166.80px;font:normal 35.2px/1 'Liberation Sans',sans-serif;color:#404042;letter-spacing:-1.06px;-webkit-text-stroke:0.45px #404042;transform:scaleX(0.9514)">(CH)</span>
<span style="left:1198.75px;top:1241.70px;font:normal 35.2px/1 'Liberation Sans',sans-serif;color:#404042;letter-spacing:-1.06px;-webkit-text-stroke:0.45px #404042;transform:scaleX(0.9634)">Organic</span>
<span style="left:1317.95px;top:1241.70px;font:normal 35.2px/1 'Liberation Sans',sans-serif;color:#404042;letter-spacing:-1.06px;-webkit-text-stroke:0.45px #404042;transform:scaleX(1.0052)">medium-to</span>
<span style="left:1483.79px;top:1241.70px;font:normal 35.2px/1 'Liberation Sans',sans-serif;color:#404042;letter-spacing:-1.06px;-webkit-text-stroke:0.45px #404042;transform:scaleX(1.0097)">high-plasticity</span>
<span style="left:1690.96px;top:1241.70px;font:normal 35.2px/1 'Liberation Sans',sans-serif;color:#404042;letter-spacing:-1.06px;-webkit-text-stroke:0.45px #404042;transform:scaleX(0.9853)">clays</span>
<span style="left:1773.15px;top:1241.70px;font:normal 35.2px/1 'Liberation Sans',sans-serif;color:#404042;letter-spacing:-1.06px;-webkit-text-stroke:0.45px #404042;transform:scaleX(0.9760)">and</span>
<span style="left:1835.47px;top:1241.70px;font:normal 35.2px/1 'Liberation Sans',sans-serif;color:#404042;letter-spacing:-1.06px;-webkit-text-stroke:0.45px #404042;transform:scaleX(1.0039)">organic</span>
<span style="left:1199.43px;top:1283.70px;font:normal 35.2px/1 'Liberation Sans',sans-serif;color:#404042;letter-spacing:-1.06px;-webkit-text-stroke:0.45px #404042;transform:scaleX(1.0270)">silts</span>
<span style="left:1264.65px;top:1283.70px;font:normal 35.2px/1 'Liberation Sans',sans-serif;color:#404042;letter-spacing:-1.06px;-webkit-text-stroke:0.45px #404042;transform:scaleX(0.9398)">(OH)</span>
<span style="left:2089.70px;top:149.20px;font:normal 38.8px/1 'Liberation Sans',sans-serif;color:#000;-webkit-text-stroke:0.4px #000;transform:scaleX(0.9974)">40 - 80</span>
<span style="left:2089.40px;top:225.70px;font:normal 38.8px/1 'Liberation Sans',sans-serif;color:#000;-webkit-text-stroke:0.4px #000;transform:scaleX(0.9999)">30 - 60</span>
<span style="left:2089.00px;top:297.60px;font:normal 38.8px/1 'Liberation Sans',sans-serif;color:#000;-webkit-text-stroke:0.4px #000;transform:scaleX(0.9983)">20 - 60</span>
<span style="left:2088.50px;top:370.80px;font:normal 38.8px/1 'Liberation Sans',sans-serif;color:#000;-webkit-text-stroke:0.4px #000;transform:scaleX(0.9957)">20 - 40</span>
<span style="left:2088.50px;top:445.10px;font:normal 38.8px/1 'Liberation Sans',sans-serif;color:#000;-webkit-text-stroke:0.4px #000;transform:scaleX(0.9957)">20 - 40</span>
<span style="left:2089.73px;top:517.20px;font:normal 38.8px/1 'Liberation Sans',sans-serif;color:#000;-webkit-text-stroke:0.4px #000;transform:scaleX(0.9856)">10 - 40</span>
<span style="left:2089.73px;top:590.50px;font:normal 38.8px/1 'Liberation Sans',sans-serif;color:#000;-webkit-text-stroke:0.4px #000;transform:scaleX(0.9856)">10 - 40</span>
<span style="left:2087.40px;top:665.10px;font:normal 38.8px/1 'Liberation Sans',sans-serif;color:#000;-webkit-text-stroke:0.4px #000;transform:scaleX(0.9987)">5 - 20</span>
<span style="left:2089.69px;top:758.60px;font:normal 38.8px/1 'Liberation Sans',sans-serif;color:#000;-webkit-text-stroke:0.4px #000;transform:scaleX(1.0130)">≤ 15</span>
<span style="left:2090.69px;top:864.70px;font:normal 38.8px/1 'Liberation Sans',sans-serif;color:#000;-webkit-text-stroke:0.4px #000;transform:scaleX(1.0075)">≤ 15</span>
<span style="left:2089.10px;top:965.60px;font:normal 38.8px/1 'Liberation Sans',sans-serif;color:#000;-webkit-text-stroke:0.4px #000;transform:scaleX(1.0044)">≤ 5</span>
<span style="left:2090.70px;top:1058.60px;font:normal 38.8px/1 'Liberation Sans',sans-serif;color:#000;-webkit-text-stroke:0.4px #000;transform:scaleX(0.9939)">≤ 10</span>
<span style="left:2087.99px;top:1158.40px;font:normal 38.8px/1 'Liberation Sans',sans-serif;color:#000;-webkit-text-stroke:0.4px #000;transform:scaleX(1.0075)">≤ 15</span>
<span style="left:2088.00px;top:1254.50px;font:normal 38.8px/1 'Liberation Sans',sans-serif;color:#000;-webkit-text-stroke:0.4px #000;transform:scaleX(1.0005)">≤ 5</span>
</div>
</div></body></html>
